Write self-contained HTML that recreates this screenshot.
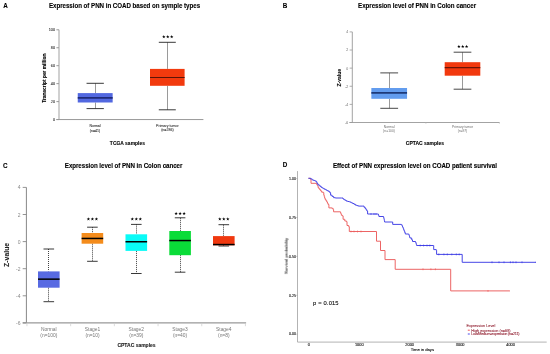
<!DOCTYPE html>
<html><head><meta charset="utf-8"><title>PNN expression figure</title><style>
html,body{margin:0;padding:0;background:#fff;}
body{width:550px;height:354px;overflow:hidden;}
svg{display:block;font-family:"Liberation Sans", sans-serif;will-change:transform;}
</style></head><body>
<svg width="550" height="354" viewBox="0 0 550 354">
<defs><filter id="soft" x="-10%" y="-30%" width="120%" height="160%"><feGaussianBlur stdDeviation="0.22"/></filter></defs>
<rect width="550" height="354" fill="#fff"/>
<text x="5.45" y="7.56" font-size="6.3" font-weight="bold" fill="#000" text-anchor="middle" stroke="#000" stroke-width="0.1" stroke-linejoin="round">A</text>
<text transform="translate(48.90,7.84) scale(1,1.12)" x="0" y="0" font-size="6.2" font-weight="bold" fill="#000" textLength="151.2" lengthAdjust="spacing" stroke="#000" stroke-width="0.1" stroke-linejoin="round">Expression of PNN in COAD based on symple types</text>
<line x1="59.00" y1="29.80" x2="59.00" y2="119.55" stroke="#aaa" stroke-width="1.1" />
<line x1="56.40" y1="119.55" x2="203.40" y2="119.55" stroke="#999" stroke-width="1.0" />
<line x1="56.40" y1="29.80" x2="59.00" y2="29.80" stroke="#999" stroke-width="1.0" />
<text x="55.00" y="31.16" font-size="3.8" fill="#333" text-anchor="end" stroke="#333" stroke-width="0.08" stroke-linejoin="round">100</text>
<line x1="56.40" y1="47.75" x2="59.00" y2="47.75" stroke="#999" stroke-width="1.0" />
<text x="55.00" y="49.11" font-size="3.8" fill="#333" text-anchor="end" stroke="#333" stroke-width="0.08" stroke-linejoin="round">80</text>
<line x1="56.40" y1="65.70" x2="59.00" y2="65.70" stroke="#999" stroke-width="1.0" />
<text x="55.00" y="67.06" font-size="3.8" fill="#333" text-anchor="end" stroke="#333" stroke-width="0.08" stroke-linejoin="round">60</text>
<line x1="56.40" y1="83.65" x2="59.00" y2="83.65" stroke="#999" stroke-width="1.0" />
<text x="55.00" y="85.01" font-size="3.8" fill="#333" text-anchor="end" stroke="#333" stroke-width="0.08" stroke-linejoin="round">40</text>
<line x1="56.40" y1="101.60" x2="59.00" y2="101.60" stroke="#999" stroke-width="1.0" />
<text x="55.00" y="102.96" font-size="3.8" fill="#333" text-anchor="end" stroke="#333" stroke-width="0.08" stroke-linejoin="round">20</text>
<line x1="56.40" y1="119.55" x2="59.00" y2="119.55" stroke="#999" stroke-width="1.0" />
<text x="55.00" y="120.91" font-size="3.8" fill="#333" text-anchor="end" stroke="#333" stroke-width="0.08" stroke-linejoin="round">0</text>
<text transform="translate(44.00,78.20) rotate(-90)" x="0" y="1.74" font-size="4.85" font-weight="bold" fill="#000" text-anchor="middle" textLength="49.2" lengthAdjust="spacing" stroke="#000" stroke-width="0.1" stroke-linejoin="round">Transcript per million</text>
<line x1="95.50" y1="83.30" x2="95.50" y2="93.10" stroke="#555" stroke-width="0.6" />
<line x1="95.50" y1="102.50" x2="95.50" y2="108.60" stroke="#555" stroke-width="0.6" />
<line x1="86.55" y1="83.30" x2="103.85" y2="83.30" stroke="#222" stroke-width="0.9" />
<line x1="86.55" y1="108.60" x2="103.85" y2="108.60" stroke="#222" stroke-width="0.9" />
<rect x="77.75" y="93.10" width="34.90" height="9.40" fill="#5268e0"/>
<line x1="77.75" y1="97.80" x2="112.65" y2="97.80" stroke="#1f2a78" stroke-width="1.7" />
<line x1="167.50" y1="42.30" x2="167.50" y2="68.90" stroke="#555" stroke-width="0.6" />
<line x1="167.50" y1="85.80" x2="167.50" y2="109.80" stroke="#555" stroke-width="0.6" />
<line x1="158.80" y1="42.30" x2="175.80" y2="42.30" stroke="#222" stroke-width="0.9" />
<line x1="158.80" y1="109.80" x2="175.80" y2="109.80" stroke="#222" stroke-width="0.9" />
<rect x="150.00" y="68.90" width="34.60" height="16.90" fill="#f23a0e"/>
<line x1="150.00" y1="77.50" x2="184.60" y2="77.50" stroke="#5a1408" stroke-width="1.2" />
<polygon points="163.80,35.05 164.24,36.24 165.51,36.29 164.51,37.08 164.86,38.31 163.80,37.60 162.74,38.31 163.09,37.08 162.09,36.29 163.36,36.24" fill="#000"/>
<polygon points="167.75,35.05 168.19,36.24 169.46,36.29 168.46,37.08 168.81,38.31 167.75,37.60 166.69,38.31 167.04,37.08 166.04,36.29 167.31,36.24" fill="#000"/>
<polygon points="171.70,35.05 172.14,36.24 173.41,36.29 172.41,37.08 172.76,38.31 171.70,37.60 170.64,38.31 170.99,37.08 169.99,36.29 171.26,36.24" fill="#000"/>
<text x="95.00" y="126.99" font-size="3.6" fill="#333" text-anchor="middle" textLength="11.2" lengthAdjust="spacing" stroke="#333" stroke-width="0.08" stroke-linejoin="round">Normal</text>
<text x="95.00" y="131.59" font-size="3.6" fill="#333" text-anchor="middle" stroke="#333" stroke-width="0.08" stroke-linejoin="round">(n=41)</text>
<text x="167.40" y="126.79" font-size="3.6" fill="#333" text-anchor="middle" stroke="#333" stroke-width="0.08" stroke-linejoin="round">Primary tumor</text>
<text x="167.40" y="131.49" font-size="3.6" fill="#333" text-anchor="middle" stroke="#333" stroke-width="0.08" stroke-linejoin="round">(n=286)</text>
<text x="109.85" y="144.66" font-size="4.92" font-weight="bold" fill="#000" textLength="35.1" lengthAdjust="spacing" stroke="#000" stroke-width="0.1" stroke-linejoin="round">TCGA samples</text>
<text x="285.00" y="7.56" font-size="6.3" font-weight="bold" fill="#000" text-anchor="middle" stroke="#000" stroke-width="0.1" stroke-linejoin="round">B</text>
<text transform="translate(358.10,7.89) scale(1,1.12)" x="0" y="0" font-size="6.2" font-weight="bold" fill="#000" textLength="118.0" lengthAdjust="spacing" stroke="#000" stroke-width="0.1" stroke-linejoin="round">Expression level of PNN in Colon cancer</text>
<line x1="352.30" y1="31.90" x2="352.30" y2="122.50" stroke="#999" stroke-width="0.9" />
<line x1="349.40" y1="122.50" x2="499.60" y2="122.50" stroke="#999" stroke-width="0.9" />
<line x1="349.60" y1="31.90" x2="352.30" y2="31.90" stroke="#999" stroke-width="0.8" />
<text x="348.30" y="33.35" font-size="3.5" fill="#666" text-anchor="end">4</text>
<line x1="349.60" y1="50.02" x2="352.30" y2="50.02" stroke="#999" stroke-width="0.8" />
<text x="348.30" y="51.47" font-size="3.5" fill="#666" text-anchor="end">2</text>
<line x1="349.60" y1="68.14" x2="352.30" y2="68.14" stroke="#999" stroke-width="0.8" />
<text x="348.30" y="69.59" font-size="3.5" fill="#666" text-anchor="end">0</text>
<line x1="349.60" y1="86.26" x2="352.30" y2="86.26" stroke="#999" stroke-width="0.8" />
<text x="348.30" y="87.71" font-size="3.5" fill="#666" text-anchor="end">-2</text>
<line x1="349.60" y1="104.38" x2="352.30" y2="104.38" stroke="#999" stroke-width="0.8" />
<text x="348.30" y="105.83" font-size="3.5" fill="#666" text-anchor="end">-4</text>
<line x1="349.60" y1="122.50" x2="352.30" y2="122.50" stroke="#999" stroke-width="0.8" />
<text x="348.30" y="123.95" font-size="3.5" fill="#666" text-anchor="end">-6</text>
<line x1="425.90" y1="122.50" x2="425.90" y2="123.80" stroke="#bbb" stroke-width="0.6" />
<line x1="499.40" y1="122.50" x2="499.40" y2="123.80" stroke="#bbb" stroke-width="0.6" />
<text transform="translate(339.20,77.70) rotate(-90)" x="0" y="1.82" font-size="5.08" font-weight="bold" fill="#000" text-anchor="middle" textLength="17.8" lengthAdjust="spacing" stroke="#000" stroke-width="0.1" stroke-linejoin="round">Z-value</text>
<line x1="389.50" y1="72.90" x2="389.50" y2="88.00" stroke="#555" stroke-width="0.6" />
<line x1="389.50" y1="98.80" x2="389.50" y2="108.30" stroke="#555" stroke-width="0.6" />
<line x1="380.30" y1="72.90" x2="398.10" y2="72.90" stroke="#333" stroke-width="0.9" />
<line x1="380.30" y1="108.30" x2="398.10" y2="108.30" stroke="#333" stroke-width="0.9" />
<rect x="371.35" y="88.00" width="35.70" height="10.80" fill="#629cee"/>
<line x1="371.35" y1="92.90" x2="407.05" y2="92.90" stroke="#1e3a78" stroke-width="1.7" />
<line x1="462.50" y1="52.20" x2="462.50" y2="62.20" stroke="#555" stroke-width="0.6" />
<line x1="462.50" y1="75.70" x2="462.50" y2="89.20" stroke="#555" stroke-width="0.6" />
<line x1="453.65" y1="52.20" x2="471.35" y2="52.20" stroke="#333" stroke-width="0.9" />
<line x1="453.65" y1="89.20" x2="471.35" y2="89.20" stroke="#333" stroke-width="0.9" />
<rect x="444.70" y="62.20" width="35.60" height="13.50" fill="#f2390e"/>
<line x1="444.70" y1="67.60" x2="480.30" y2="67.60" stroke="#6a1608" stroke-width="1.4" />
<polygon points="458.90,44.80 459.34,45.99 460.61,46.04 459.61,46.83 459.96,48.06 458.90,47.35 457.84,48.06 458.19,46.83 457.19,46.04 458.46,45.99" fill="#000"/>
<polygon points="462.75,44.80 463.19,45.99 464.46,46.04 463.46,46.83 463.81,48.06 462.75,47.35 461.69,48.06 462.04,46.83 461.04,46.04 462.31,45.99" fill="#000"/>
<polygon points="466.60,44.80 467.04,45.99 468.31,46.04 467.31,46.83 467.66,48.06 466.60,47.35 465.54,48.06 465.89,46.83 464.89,46.04 466.16,45.99" fill="#000"/>
<text x="389.20" y="128.15" font-size="3.2" fill="#666" text-anchor="middle" textLength="10.9" lengthAdjust="spacing">Normal</text>
<text x="389.00" y="132.15" font-size="3.2" fill="#666" text-anchor="middle" textLength="11.8" lengthAdjust="spacing">(n=100)</text>
<text x="462.50" y="128.05" font-size="3.2" fill="#666" text-anchor="middle" textLength="20.9" lengthAdjust="spacing">Primary tumor</text>
<text x="462.50" y="131.85" font-size="3.2" fill="#666" text-anchor="middle">(n=97)</text>
<text x="405.80" y="144.88" font-size="4.97" font-weight="bold" fill="#000" textLength="38.2" lengthAdjust="spacing" stroke="#000" stroke-width="0.1" stroke-linejoin="round">CPTAC samples</text>
<text x="5.20" y="167.66" font-size="6.3" font-weight="bold" fill="#000" text-anchor="middle" stroke="#000" stroke-width="0.1" stroke-linejoin="round">C</text>
<text transform="translate(64.80,167.99) scale(1,1.12)" x="0" y="0" font-size="6.2" font-weight="bold" fill="#000" textLength="117.6" lengthAdjust="spacing" stroke="#000" stroke-width="0.1" stroke-linejoin="round">Expression level of PNN in Colon cancer</text>
<line x1="26.40" y1="187.40" x2="26.40" y2="322.90" stroke="#888" stroke-width="1.0" />
<line x1="22.70" y1="322.90" x2="246.10" y2="322.90" stroke="#999" stroke-width="1.3" />
<line x1="22.70" y1="187.40" x2="26.40" y2="187.40" stroke="#888" stroke-width="0.9" />
<text x="20.50" y="189.49" font-size="5.0" fill="#888" text-anchor="end">4</text>
<line x1="22.70" y1="214.50" x2="26.40" y2="214.50" stroke="#888" stroke-width="0.9" />
<text x="20.50" y="216.59" font-size="5.0" fill="#888" text-anchor="end">2</text>
<line x1="22.70" y1="241.60" x2="26.40" y2="241.60" stroke="#888" stroke-width="0.9" />
<text x="20.50" y="243.69" font-size="5.0" fill="#888" text-anchor="end">0</text>
<line x1="22.70" y1="268.70" x2="26.40" y2="268.70" stroke="#888" stroke-width="0.9" />
<text x="20.50" y="270.79" font-size="5.0" fill="#888" text-anchor="end">-2</text>
<line x1="22.70" y1="295.80" x2="26.40" y2="295.80" stroke="#888" stroke-width="0.9" />
<text x="20.50" y="297.89" font-size="5.0" fill="#888" text-anchor="end">-4</text>
<line x1="22.70" y1="322.90" x2="26.40" y2="322.90" stroke="#888" stroke-width="0.9" />
<text x="20.50" y="324.99" font-size="5.0" fill="#888" text-anchor="end">-6</text>
<line x1="26.95" y1="322.90" x2="26.95" y2="326.20" stroke="#ccc" stroke-width="0.7" />
<line x1="70.65" y1="322.90" x2="70.65" y2="326.20" stroke="#ccc" stroke-width="0.7" />
<line x1="114.35" y1="322.90" x2="114.35" y2="326.20" stroke="#ccc" stroke-width="0.7" />
<line x1="158.05" y1="322.90" x2="158.05" y2="326.20" stroke="#ccc" stroke-width="0.7" />
<line x1="201.75" y1="322.90" x2="201.75" y2="326.20" stroke="#ccc" stroke-width="0.7" />
<line x1="245.45" y1="322.90" x2="245.45" y2="326.20" stroke="#ccc" stroke-width="0.7" />
<text transform="translate(6.90,254.90) rotate(-90)" x="0" y="2.43" font-size="6.8" font-weight="bold" fill="#222" text-anchor="middle" textLength="24.0" lengthAdjust="spacing" stroke="#222" stroke-width="0.1" stroke-linejoin="round">Z-value</text>
<line x1="48.50" y1="249.00" x2="48.50" y2="271.40" stroke="#111" stroke-width="0.8" stroke-dasharray="1 1"/>
<line x1="48.50" y1="287.70" x2="48.50" y2="301.70" stroke="#111" stroke-width="0.8" stroke-dasharray="1 1"/>
<line x1="43.50" y1="249.00" x2="54.10" y2="249.00" stroke="#222" stroke-width="0.9" />
<line x1="43.50" y1="301.70" x2="54.10" y2="301.70" stroke="#222" stroke-width="0.9" />
<rect x="38.00" y="271.40" width="21.60" height="16.30" fill="#586ae2"/>
<line x1="38.00" y1="279.15" x2="59.60" y2="279.15" stroke="#000" stroke-width="1.5" />
<line x1="92.50" y1="227.20" x2="92.50" y2="233.00" stroke="#111" stroke-width="0.8" stroke-dasharray="1 1"/>
<line x1="92.50" y1="243.70" x2="92.50" y2="261.30" stroke="#111" stroke-width="0.8" stroke-dasharray="1 1"/>
<line x1="87.10" y1="227.20" x2="97.70" y2="227.20" stroke="#222" stroke-width="0.9" />
<line x1="87.10" y1="261.30" x2="97.70" y2="261.30" stroke="#222" stroke-width="0.9" />
<rect x="81.60" y="233.00" width="21.60" height="10.70" fill="#f48c1c"/>
<line x1="81.60" y1="238.45" x2="103.20" y2="238.45" stroke="#000" stroke-width="1.5" />
<polygon points="88.40,217.20 88.84,218.39 90.11,218.44 89.11,219.23 89.46,220.46 88.40,219.75 87.34,220.46 87.69,219.23 86.69,218.44 87.96,218.39" fill="#000"/>
<polygon points="92.40,217.20 92.84,218.39 94.11,218.44 93.11,219.23 93.46,220.46 92.40,219.75 91.34,220.46 91.69,219.23 90.69,218.44 91.96,218.39" fill="#000"/>
<polygon points="96.40,217.20 96.84,218.39 98.11,218.44 97.11,219.23 97.46,220.46 96.40,219.75 95.34,220.46 95.69,219.23 94.69,218.44 95.96,218.39" fill="#000"/>
<line x1="136.50" y1="224.40" x2="136.50" y2="234.30" stroke="#111" stroke-width="0.8" stroke-dasharray="1 1"/>
<line x1="136.50" y1="250.90" x2="136.50" y2="273.50" stroke="#111" stroke-width="0.8" stroke-dasharray="1 1"/>
<line x1="131.00" y1="224.40" x2="141.60" y2="224.40" stroke="#222" stroke-width="0.9" />
<line x1="131.00" y1="273.50" x2="141.60" y2="273.50" stroke="#222" stroke-width="0.9" />
<rect x="125.50" y="234.30" width="21.60" height="16.60" fill="#0afbf7"/>
<line x1="125.50" y1="241.75" x2="147.10" y2="241.75" stroke="#000" stroke-width="1.5" />
<polygon points="132.30,217.20 132.74,218.39 134.01,218.44 133.01,219.23 133.36,220.46 132.30,219.75 131.24,220.46 131.59,219.23 130.59,218.44 131.86,218.39" fill="#000"/>
<polygon points="136.30,217.20 136.74,218.39 138.01,218.44 137.01,219.23 137.36,220.46 136.30,219.75 135.24,220.46 135.59,219.23 134.59,218.44 135.86,218.39" fill="#000"/>
<polygon points="140.30,217.20 140.74,218.39 142.01,218.44 141.01,219.23 141.36,220.46 140.30,219.75 139.24,220.46 139.59,219.23 138.59,218.44 139.86,218.39" fill="#000"/>
<line x1="180.50" y1="217.80" x2="180.50" y2="231.00" stroke="#111" stroke-width="0.8" stroke-dasharray="1 1"/>
<line x1="180.50" y1="255.20" x2="180.50" y2="272.20" stroke="#111" stroke-width="0.8" stroke-dasharray="1 1"/>
<line x1="174.80" y1="217.80" x2="185.40" y2="217.80" stroke="#222" stroke-width="0.9" />
<line x1="174.80" y1="272.20" x2="185.40" y2="272.20" stroke="#222" stroke-width="0.9" />
<rect x="169.30" y="231.00" width="21.60" height="24.20" fill="#0adc38"/>
<line x1="169.30" y1="240.55" x2="190.90" y2="240.55" stroke="#000" stroke-width="1.5" />
<polygon points="176.10,211.80 176.54,212.99 177.81,213.04 176.81,213.83 177.16,215.06 176.10,214.35 175.04,215.06 175.39,213.83 174.39,213.04 175.66,212.99" fill="#000"/>
<polygon points="180.10,211.80 180.54,212.99 181.81,213.04 180.81,213.83 181.16,215.06 180.10,214.35 179.04,215.06 179.39,213.83 178.39,213.04 179.66,212.99" fill="#000"/>
<polygon points="184.10,211.80 184.54,212.99 185.81,213.04 184.81,213.83 185.16,215.06 184.10,214.35 183.04,215.06 183.39,213.83 182.39,213.04 183.66,212.99" fill="#000"/>
<line x1="223.50" y1="224.70" x2="223.50" y2="236.10" stroke="#111" stroke-width="0.8" stroke-dasharray="1 1"/>
<line x1="223.50" y1="245.30" x2="223.50" y2="246.00" stroke="#111" stroke-width="0.8" stroke-dasharray="1 1"/>
<line x1="218.50" y1="224.70" x2="229.10" y2="224.70" stroke="#222" stroke-width="0.9" />
<line x1="218.50" y1="246.00" x2="229.10" y2="246.00" stroke="#222" stroke-width="0.9" />
<rect x="213.00" y="236.10" width="21.60" height="9.20" fill="#f0380f"/>
<line x1="213.00" y1="244.55" x2="234.60" y2="244.55" stroke="#000" stroke-width="1.5" />
<polygon points="219.80,217.20 220.24,218.39 221.51,218.44 220.51,219.23 220.86,220.46 219.80,219.75 218.74,220.46 219.09,219.23 218.09,218.44 219.36,218.39" fill="#000"/>
<polygon points="223.80,217.20 224.24,218.39 225.51,218.44 224.51,219.23 224.86,220.46 223.80,219.75 222.74,220.46 223.09,219.23 222.09,218.44 223.36,218.39" fill="#000"/>
<polygon points="227.80,217.20 228.24,218.39 229.51,218.44 228.51,219.23 228.86,220.46 227.80,219.75 226.74,220.46 227.09,219.23 226.09,218.44 227.36,218.39" fill="#000"/>
<text x="48.80" y="330.75" font-size="4.9" fill="#777" text-anchor="middle">Normal</text>
<text x="48.80" y="336.85" font-size="4.9" fill="#777" text-anchor="middle">(n=100)</text>
<text x="92.55" y="330.75" font-size="4.9" fill="#777" text-anchor="middle">Stage1</text>
<text x="92.55" y="336.85" font-size="4.9" fill="#777" text-anchor="middle">(n=10)</text>
<text x="136.30" y="330.75" font-size="4.9" fill="#777" text-anchor="middle">Stage2</text>
<text x="136.30" y="336.85" font-size="4.9" fill="#777" text-anchor="middle">(n=39)</text>
<text x="180.05" y="330.75" font-size="4.9" fill="#777" text-anchor="middle">Stage3</text>
<text x="180.05" y="336.85" font-size="4.9" fill="#777" text-anchor="middle">(n=40)</text>
<text x="223.80" y="330.75" font-size="4.9" fill="#777" text-anchor="middle">Stage4</text>
<text x="223.80" y="336.85" font-size="4.9" fill="#777" text-anchor="middle">(n=8)</text>
<text x="117.40" y="347.19" font-size="5.0" font-weight="bold" fill="#222" textLength="38.2" lengthAdjust="spacing" stroke="#222" stroke-width="0.1" stroke-linejoin="round">CPTAC samples</text>
<text x="285.00" y="167.46" font-size="6.3" font-weight="bold" fill="#000" text-anchor="middle" stroke="#000" stroke-width="0.1" stroke-linejoin="round">D</text>
<text transform="translate(332.90,167.79) scale(1,1.12)" x="0" y="0" font-size="6.2" font-weight="bold" fill="#000" textLength="164.0" lengthAdjust="spacing" stroke="#000" stroke-width="0.1" stroke-linejoin="round">Effect of PNN expression level on COAD patient survival</text>
<line x1="297.50" y1="171.10" x2="297.50" y2="342.10" stroke="#aaa" stroke-width="0.9" />
<line x1="297.50" y1="342.10" x2="546.70" y2="342.10" stroke="#aaa" stroke-width="0.9" />
<line x1="296.20" y1="178.60" x2="297.50" y2="178.60" stroke="#999" stroke-width="0.6" />
<text x="296.00" y="179.89" font-size="3.6" fill="#111" text-anchor="end" stroke="#111" stroke-width="0.1" stroke-linejoin="round" filter="url(#soft)">1.00</text>
<line x1="296.20" y1="217.50" x2="297.50" y2="217.50" stroke="#999" stroke-width="0.6" />
<text x="296.00" y="218.79" font-size="3.6" fill="#111" text-anchor="end" stroke="#111" stroke-width="0.1" stroke-linejoin="round" filter="url(#soft)">0.75</text>
<line x1="296.20" y1="256.40" x2="297.50" y2="256.40" stroke="#999" stroke-width="0.6" />
<text x="296.00" y="257.69" font-size="3.6" fill="#111" text-anchor="end" stroke="#111" stroke-width="0.1" stroke-linejoin="round" filter="url(#soft)">0.50</text>
<line x1="296.20" y1="295.30" x2="297.50" y2="295.30" stroke="#999" stroke-width="0.6" />
<text x="296.00" y="296.59" font-size="3.6" fill="#111" text-anchor="end" stroke="#111" stroke-width="0.1" stroke-linejoin="round" filter="url(#soft)">0.25</text>
<line x1="296.20" y1="334.20" x2="297.50" y2="334.20" stroke="#999" stroke-width="0.6" />
<text x="296.00" y="335.49" font-size="3.6" fill="#111" text-anchor="end" stroke="#111" stroke-width="0.1" stroke-linejoin="round" filter="url(#soft)">0.00</text>
<text x="308.80" y="346.00" font-size="3.9" fill="#111" text-anchor="middle" stroke="#111" stroke-width="0.1" stroke-linejoin="round" filter="url(#soft)">0</text>
<text x="359.25" y="346.00" font-size="3.9" fill="#111" text-anchor="middle" stroke="#111" stroke-width="0.1" stroke-linejoin="round" filter="url(#soft)">1000</text>
<text x="409.70" y="346.00" font-size="3.9" fill="#111" text-anchor="middle" stroke="#111" stroke-width="0.1" stroke-linejoin="round" filter="url(#soft)">2000</text>
<text x="460.15" y="346.00" font-size="3.9" fill="#111" text-anchor="middle" stroke="#111" stroke-width="0.1" stroke-linejoin="round" filter="url(#soft)">3000</text>
<text x="510.60" y="346.00" font-size="3.9" fill="#111" text-anchor="middle" stroke="#111" stroke-width="0.1" stroke-linejoin="round" filter="url(#soft)">4000</text>
<text x="410.80" y="350.50" font-size="4.2" fill="#000" textLength="23.2" lengthAdjust="spacing" stroke="#000" stroke-width="0.1" stroke-linejoin="round" filter="url(#soft)">Time in days</text>
<text transform="translate(285.60,256.10) rotate(-90)" x="0" y="1.54" font-size="4.3" fill="#333" text-anchor="middle" textLength="36.2" lengthAdjust="spacing" stroke="#333" stroke-width="0.1" stroke-linejoin="round" filter="url(#soft)">Survival probability</text>
<text x="313.10" y="305.08" font-size="5.8" fill="#111" textLength="25.5" lengthAdjust="spacing" stroke="#111" stroke-width="0.12" stroke-linejoin="round">p = 0.015</text>
<polyline points="309.00,178.30 310.50,178.30 310.50,179.20 311.00,179.20 311.00,183.30 316.00,183.30 316.00,183.50 316.70,183.50 316.70,184.55 317.40,184.55 317.40,185.60 318.10,185.60 318.10,187.70 318.95,187.70 318.95,188.75 319.80,188.75 319.80,189.80 320.75,189.80 320.75,191.00 321.70,191.00 321.70,192.20 323.40,192.20 323.40,192.60 323.80,192.60 323.80,195.20 324.23,195.20 324.23,196.60 324.67,196.60 324.67,198.00 325.10,198.00 325.10,199.40 325.95,199.40 325.95,200.70 326.80,200.70 326.80,202.00 327.45,202.00 327.45,203.25 328.10,203.25 328.10,204.50 328.90,204.50 328.90,207.90 331.90,207.90 331.90,208.30 333.10,208.30 333.10,209.60 333.60,209.60 333.60,211.80 340.30,211.80 340.30,212.00 340.67,212.00 340.67,213.10 341.03,213.10 341.03,214.20 341.40,214.20 341.40,215.30 342.50,215.30 342.50,215.90 343.10,215.90 343.10,219.30 344.80,219.30 344.80,221.00 346.50,221.00 346.50,221.60 347.00,221.60 347.00,225.50 348.70,225.50 348.70,226.60 349.30,226.60 349.30,231.50 376.50,231.50 376.50,231.50 376.50,231.50 376.50,241.20 380.50,241.20 380.50,241.20 380.50,241.20 380.50,250.50 385.00,250.50 385.00,250.50 385.00,250.50 385.00,259.60 395.20,259.60 395.20,259.60 395.20,259.60 395.20,269.30 450.70,269.30 450.70,269.30 450.70,269.30 450.70,290.90 509.60,290.90 509.60,290.90" fill="none" stroke="#ec6464" stroke-width="1.0" stroke-linejoin="miter" stroke-linecap="square"/>
<polyline points="308.90,178.30 310.60,178.30 310.60,178.90 312.10,178.90 312.10,179.90 313.50,179.90 313.50,180.45 314.90,180.45 314.90,181.00 316.30,181.00 316.30,181.70 316.85,181.70 316.85,182.95 317.40,182.95 317.40,184.20 318.67,184.20 318.67,185.27 319.93,185.27 319.93,186.33 321.20,186.33 321.20,187.40 322.30,187.40 322.30,188.03 323.40,188.03 323.40,188.67 324.50,188.67 324.50,189.30 325.80,189.30 325.80,190.00 327.10,190.00 327.10,190.70 328.40,190.70 328.40,191.40 329.70,191.40 329.70,192.60 330.60,192.60 330.60,195.20 332.10,195.20 332.10,196.45 333.60,196.45 333.60,197.70 335.30,197.70 335.30,198.00 341.30,198.00 341.30,198.00 343.00,198.00 343.00,199.00 344.17,199.00 344.17,199.73 345.33,199.73 345.33,200.47 346.50,200.47 346.50,201.20 347.90,201.20 347.90,201.50 349.30,201.50 349.30,201.80 350.43,201.80 350.43,202.37 351.57,202.37 351.57,202.93 352.70,202.93 352.70,203.50 354.10,203.50 354.10,204.35 355.50,204.35 355.50,205.20 356.90,205.20 356.90,205.65 358.30,205.65 358.30,206.10 362.90,206.10 362.90,206.10 364.05,206.10 364.05,207.30 365.20,207.30 365.20,208.50 366.05,208.50 366.05,209.75 366.90,209.75 366.90,211.00 367.60,211.00 367.60,214.00 377.80,214.00 377.80,214.00 378.35,214.00 378.35,215.25 378.90,215.25 378.90,216.50 383.50,216.50 383.50,216.90 383.77,216.90 383.77,218.18 384.05,218.18 384.05,219.45 384.33,219.45 384.33,220.72 384.60,220.72 384.60,222.00 391.80,222.00 391.80,222.00 392.70,222.00 392.70,224.40 401.40,224.40 401.40,224.60 401.95,224.60 401.95,225.75 402.50,225.75 402.50,226.90 403.05,226.90 403.05,228.30 403.60,228.30 403.60,229.70 404.17,229.70 404.17,231.13 404.73,231.13 404.73,232.57 405.30,232.57 405.30,234.00 408.70,234.00 408.70,234.40 409.10,234.40 409.10,235.60 409.50,235.60 409.50,236.80 409.90,236.80 409.90,238.00 411.70,238.00 411.70,239.80 412.50,239.80 412.50,241.50 415.50,241.50 415.50,242.00 415.87,242.00 415.87,243.17 416.23,243.17 416.23,244.33 416.60,244.33 416.60,245.50 433.20,245.50 433.20,245.50 433.70,245.50 433.70,249.60 436.20,249.60 436.20,250.20 436.60,250.20 436.60,254.40 462.10,254.40 462.10,254.40 462.20,254.40 462.20,262.30 536.00,262.30 536.00,262.30" fill="none" stroke="#4646e6" stroke-width="1.0" stroke-linejoin="miter" stroke-linecap="square"/>
<line x1="492.00" y1="261.40" x2="492.00" y2="263.20" stroke="#3636e6" stroke-width="0.7" />
<line x1="499.00" y1="261.40" x2="499.00" y2="263.20" stroke="#3636e6" stroke-width="0.7" />
<line x1="504.00" y1="261.40" x2="504.00" y2="263.20" stroke="#3636e6" stroke-width="0.7" />
<line x1="510.40" y1="261.40" x2="510.40" y2="263.20" stroke="#3636e6" stroke-width="0.7" />
<line x1="513.00" y1="261.40" x2="513.00" y2="263.20" stroke="#3636e6" stroke-width="0.7" />
<line x1="516.00" y1="261.40" x2="516.00" y2="263.20" stroke="#3636e6" stroke-width="0.7" />
<line x1="522.00" y1="261.40" x2="522.00" y2="263.20" stroke="#3636e6" stroke-width="0.7" />
<line x1="438.80" y1="253.50" x2="438.80" y2="255.30" stroke="#3636e6" stroke-width="0.7" />
<line x1="443.90" y1="253.50" x2="443.90" y2="255.30" stroke="#3636e6" stroke-width="0.7" />
<line x1="447.30" y1="253.50" x2="447.30" y2="255.30" stroke="#3636e6" stroke-width="0.7" />
<line x1="451.80" y1="253.50" x2="451.80" y2="255.30" stroke="#3636e6" stroke-width="0.7" />
<line x1="456.30" y1="253.50" x2="456.30" y2="255.30" stroke="#3636e6" stroke-width="0.7" />
<line x1="459.20" y1="253.50" x2="459.20" y2="255.30" stroke="#3636e6" stroke-width="0.7" />
<line x1="420.20" y1="244.60" x2="420.20" y2="246.40" stroke="#3636e6" stroke-width="0.7" />
<line x1="423.60" y1="244.60" x2="423.60" y2="246.40" stroke="#3636e6" stroke-width="0.7" />
<line x1="427.00" y1="244.60" x2="427.00" y2="246.40" stroke="#3636e6" stroke-width="0.7" />
<line x1="429.80" y1="244.60" x2="429.80" y2="246.40" stroke="#3636e6" stroke-width="0.7" />
<line x1="371.00" y1="213.10" x2="371.00" y2="214.90" stroke="#3636e6" stroke-width="0.7" />
<line x1="374.00" y1="213.10" x2="374.00" y2="214.90" stroke="#3636e6" stroke-width="0.7" />
<line x1="376.00" y1="213.10" x2="376.00" y2="214.90" stroke="#3636e6" stroke-width="0.7" />
<line x1="423.00" y1="268.40" x2="423.00" y2="270.20" stroke="#ef5a5a" stroke-width="0.7" />
<line x1="430.90" y1="268.40" x2="430.90" y2="270.20" stroke="#ef5a5a" stroke-width="0.7" />
<line x1="435.40" y1="268.40" x2="435.40" y2="270.20" stroke="#ef5a5a" stroke-width="0.7" />
<line x1="488.00" y1="290.00" x2="488.00" y2="291.80" stroke="#ef5a5a" stroke-width="0.7" />
<line x1="351.00" y1="230.60" x2="351.00" y2="232.40" stroke="#ef5a5a" stroke-width="0.7" />
<line x1="354.00" y1="230.60" x2="354.00" y2="232.40" stroke="#ef5a5a" stroke-width="0.7" />
<line x1="357.50" y1="230.60" x2="357.50" y2="232.40" stroke="#ef5a5a" stroke-width="0.7" />
<line x1="361.00" y1="230.60" x2="361.00" y2="232.40" stroke="#ef5a5a" stroke-width="0.7" />
<text x="466.40" y="327.24" font-size="3.75" fill="#962a3a" textLength="28.9" lengthAdjust="spacing" stroke="#962a3a" stroke-width="0.1" stroke-linejoin="round" filter="url(#soft)">Expression Level</text>
<line x1="467.80" y1="330.20" x2="469.80" y2="330.20" stroke="#ee4444" stroke-width="0.9" />
<text x="471.30" y="331.64" font-size="3.75" fill="#962a3a" textLength="39.2" lengthAdjust="spacing" stroke="#962a3a" stroke-width="0.1" stroke-linejoin="round" filter="url(#soft)">High expression (n=68)</text>
<line x1="467.80" y1="334.00" x2="469.80" y2="334.00" stroke="#3636e6" stroke-width="0.9" />
<text x="471.20" y="335.44" font-size="3.75" fill="#962a3a" textLength="48.3" lengthAdjust="spacing" stroke="#962a3a" stroke-width="0.1" stroke-linejoin="round" filter="url(#soft)">Low/Medium-expression (n=211)</text>
</svg>
</body></html>
